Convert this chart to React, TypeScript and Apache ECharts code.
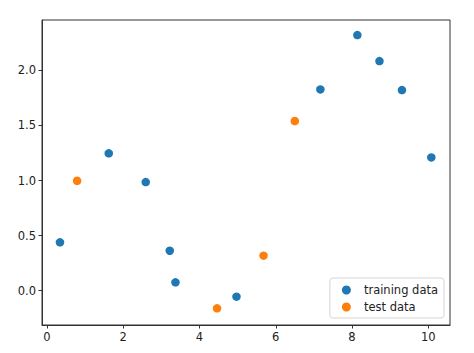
import React, { useEffect, useRef } from "react";
import * as echarts from "echarts";

const trainX = [0.34, 1.62, 2.59, 3.22, 3.37, 4.97, 7.17, 8.14, 8.72, 9.31, 10.08];
const trainY = [0.439, 1.247, 0.986, 0.363, 0.076, -0.054, 1.827, 2.32, 2.084, 1.821, 1.21];
const testX = [0.79, 4.46, 5.68, 6.5];
const testY = [0.998, -0.16, 0.318, 1.54];
const xTicks = [0, 2, 4, 6, 8, 10];
const yTicks = [0, 0.5, 1, 1.5, 2];
const seriesNames = ["training data", "test data"];

export default function App() {
  const ref = useRef<HTMLDivElement>(null);
  useEffect(() => {
    if (!ref.current) return;
    const chart = echarts.init(ref.current, undefined, { renderer: "svg" });
    const font = "DejaVu Sans";
    chart.setOption({
      animation: false,
      backgroundColor: "#ffffff",
      grid: {
        left: 42,
        right: 24,
        top: 20,
        bottom: 28,
        show: true,
        borderColor: "#333333",
        borderWidth: 1,
        containLabel: false,
      },
      legend: {
        orient: "vertical",
        right: 30,
        bottom: 35,
        icon: "circle",
        itemWidth: 9,
        itemHeight: 9,
        itemGap: 5,
        padding: [6, 6, 5, 12],
        backgroundColor: "#ffffff",
        borderColor: "#d5d5d5",
        borderWidth: 1,
        borderRadius: 3,
        textStyle: { fontFamily: font, fontSize: 11.5, color: "#222", padding: [0, 0, 0, 8] },
        data: seriesNames,
      },
      xAxis: {
        type: "value",
        min: -0.131,
        max: 10.57,
        splitLine: { show: false },
        axisLine: { show: true, onZero: false, lineStyle: { color: "#333333" } },
        axisTick: { show: true, length: 3.5, lineStyle: { color: "#333333" }, customValues: xTicks },
        axisLabel: {
          fontFamily: font,
          fontSize: 11.5,
          color: "#222",
          margin: 6,
          customValues: xTicks,
        },
      },
      yAxis: {
        type: "value",
        min: -0.311,
        max: 2.457,
        splitLine: { show: false },
        axisLine: { show: true, onZero: false, lineStyle: { color: "#333333" } },
        axisTick: { show: true, length: 3.5, lineStyle: { color: "#333333" }, customValues: yTicks },
        axisLabel: {
          fontFamily: font,
          fontSize: 11.5,
          color: "#222",
          margin: 6,
          customValues: yTicks,
          formatter: (v: number) => v.toFixed(1),
        },
      },
      series: [
        {
          name: seriesNames[0],
          type: "scatter",
          symbolSize: 8.5,
          itemStyle: { color: "#1f77b4", opacity: 1 },
          data: trainX.map((x, i) => [x, trainY[i]]),
        },
        {
          name: seriesNames[1],
          type: "scatter",
          symbolSize: 8.5,
          itemStyle: { color: "#ff7f0e", opacity: 1 },
          data: testX.map((x, i) => [x, testY[i]]),
        },
      ],
    });
    return () => chart.dispose();
  }, []);
  return (
    <div
      ref={ref}
      style={{ position: "fixed", left: 0, top: 0, width: 474, height: 353 }}
    />
  );
}
